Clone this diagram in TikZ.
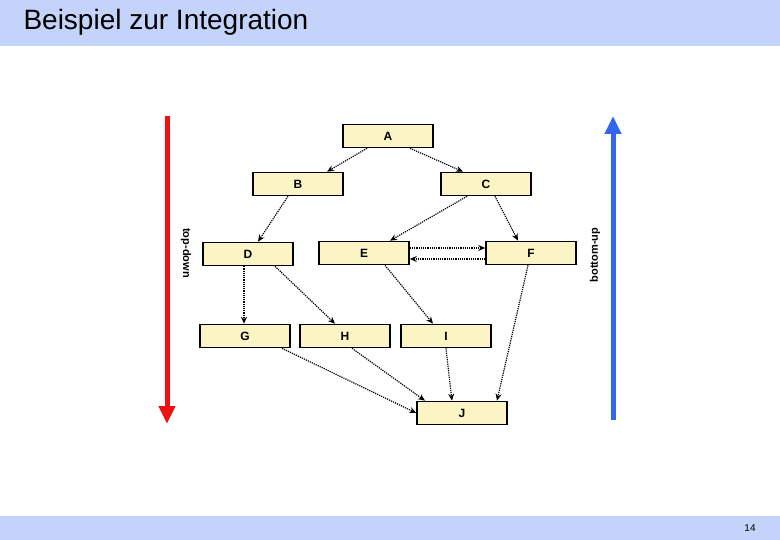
\documentclass[tikz,border=0pt]{standalone}
\usepackage{fontspec}
\setmainfont{Liberation Sans}
\usetikzlibrary{arrows.meta}
\definecolor{barblue}{HTML}{C3D3FA}
\definecolor{boxfill}{HTML}{FBF5C5}
\definecolor{redarr}{HTML}{EE1111}
\definecolor{bluearr}{HTML}{3366EE}
\begin{document}
\begin{tikzpicture}[x=1pt,y=-1pt,
  box/.style={draw=black,line width=1.6pt,fill=boxfill,minimum width=90pt,minimum height=23pt,inner sep=0pt,font=\bfseries\fontsize{12}{14}\selectfont},
  con/.style={densely dotted,line width=1.2pt,-{Stealth[length=7pt,width=6pt]}},
  big/.style={line width=5pt,-{Triangle[length=18pt,width=16pt]}}]
\useasboundingbox (0,0) rectangle (780,540);
\fill[white] (0,0) rectangle (780,540);
\fill[barblue] (0,0) rectangle (780,46);
\fill[barblue] (0,516) rectangle (780,540);
\node[anchor=west,font=\fontsize{28}{32}\selectfont] (title) at (20,22) {Beispiel zur Integration};
\node[font=\fontsize{10}{12}\selectfont] (pg) at (750,528) {14};
\node[box] (A) at (388,136) {A};
\node[box] (B) at (298,184) {B};
\node[box] (C) at (486,184) {C};
\node[box] (D) at (248,254) {D};
\node[box] (E) at (364,253) {E};
\node[box] (F) at (531,253) {F};
\node[box] (G) at (245,336) {G};
\node[box] (H) at (345,336) {H};
\node[box] (I) at (446,336) {I};
\node[box] (J) at (462,413) {J};
\draw[con] ([xshift=-21pt]A.south) -- ([xshift=29pt]B.north);
\draw[con] ([xshift=22pt]A.south) -- ([xshift=-23pt]C.north);
\draw[con] ([xshift=-10pt]B.south) -- ([xshift=10pt]D.north);
\draw[con] ([xshift=-19pt]C.south) -- ([xshift=26pt]E.north);
\draw[con] ([xshift=9pt]C.south) -- ([xshift=-13pt]F.north);
\draw[con] ([yshift=5pt]E.east) -- ([yshift=5pt]F.west);
\draw[con] ([yshift=-6pt]F.west) -- ([yshift=-6pt]E.east);
\draw[con] ([xshift=-4pt]D.south) -- ([xshift=-1pt]G.north);
\draw[con] ([xshift=27pt]D.south) -- ([xshift=-10pt]H.north);
\draw[con] ([xshift=21pt]E.south) -- ([xshift=-13pt]I.north);
\draw[con] ([xshift=-3pt]F.south) -- ([xshift=35pt]J.north);
\draw[con] ([xshift=37pt]G.south) -- (J.west);
\draw[con] ([xshift=7pt]H.south) -- ([xshift=-37pt]J.north);
\draw[con] (I.south) -- ([xshift=-10pt]J.north);
\coordinate (r1) at (167,116); \coordinate (r2) at (167,424);
\draw[big,redarr] (r1) -- (r2);
\coordinate (b1) at (613,420); \coordinate (b2) at (613,116);
\draw[big,bluearr] (b1) -- (b2);
\node[rotate=-90,font=\bfseries\fontsize{11}{13}\selectfont] (td) at (186,253) {top-down};
\node[rotate=90,font=\bfseries\fontsize{11}{13}\selectfont] (bu) at (595,255) {bottom-up};
\end{tikzpicture}
\end{document}
